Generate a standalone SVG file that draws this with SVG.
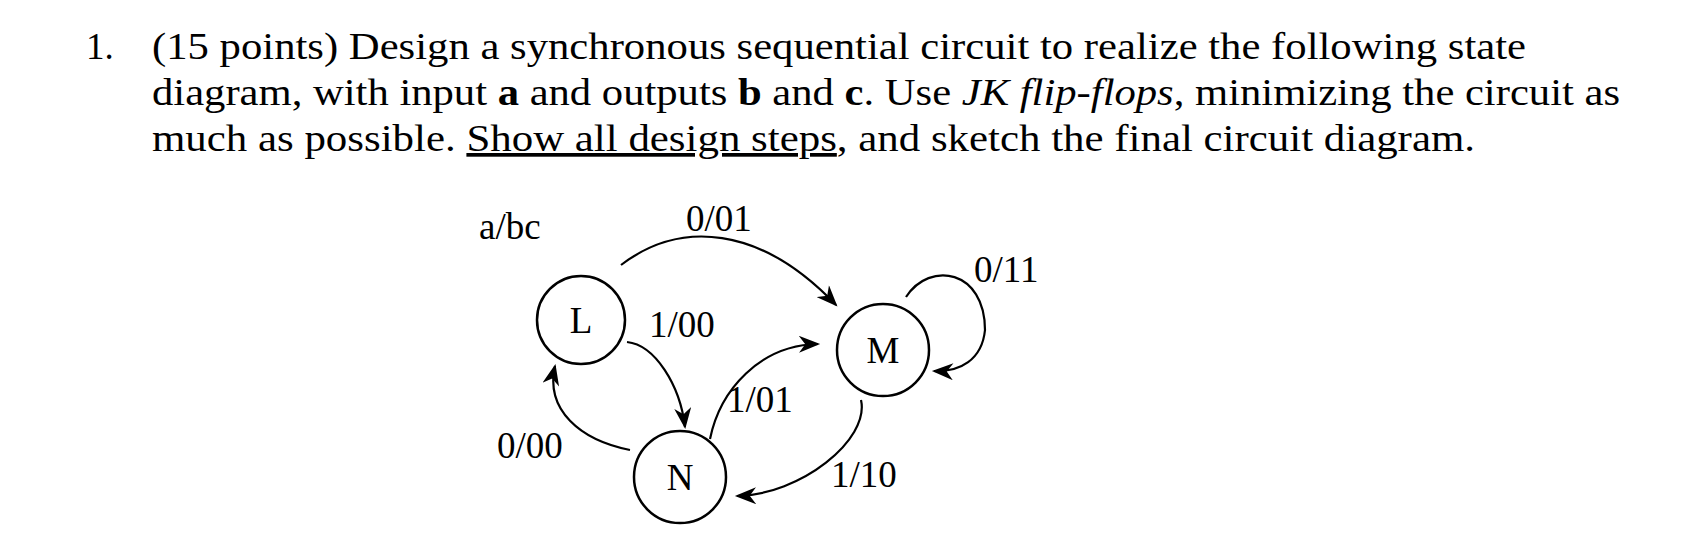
<svg xmlns="http://www.w3.org/2000/svg" width="1688" height="554" viewBox="0 0 1688 554">
<style>
.t{font-family:"Liberation Serif","Times New Roman",serif;font-size:37px;fill:#000}
.d{font-family:"Liberation Serif","Times New Roman",serif;font-size:37px;fill:#000}
.n{fill:none;stroke:#000;stroke-width:2.5}
.e{fill:none;stroke:#000;stroke-width:2.2;marker-end:url(#ah)}
</style>
<defs>
<marker id="ah" viewBox="0 0 20 16" refX="18" refY="8" markerWidth="22" markerHeight="17" markerUnits="userSpaceOnUse" orient="auto">
<path d="M0,0 L20,8 L0,16 L6,8 Z" fill="#000"/>
</marker>
</defs>
<rect width="1688" height="554" fill="#fff"/>
<text class="t" x="86" y="59">1.</text>
<text class="t" x="152" y="59" textLength="1374" lengthAdjust="spacingAndGlyphs">(15 points) Design a synchronous sequential circuit to realize the following state</text>
<text class="t" x="152" y="105" textLength="1468" lengthAdjust="spacingAndGlyphs">diagram, with input <tspan font-weight="bold">a</tspan> and outputs <tspan font-weight="bold">b</tspan> and <tspan font-weight="bold">c</tspan>. Use <tspan font-style="italic">JK flip-flops</tspan>, minimizing the circuit as</text>
<text class="t" x="152" y="151" textLength="1323" lengthAdjust="spacingAndGlyphs">much as possible.  <tspan text-decoration="underline">Show all design steps</tspan>, and sketch the final circuit diagram.</text>
<text class="d" x="479" y="239">a/bc</text>
<g id="connectors">
<path class="e" d="M621,265 C680,220 760,225 836,305"/>
<path class="e" d="M627,342 C655,345 680,385 685,427"/>
<path class="e" d="M710,439 C720,390 760,345 818,344"/>
<path class="e" d="M630,450 C580,440 545,410 555,366"/>
<path class="e" d="M861,400 C870,440 800,495 737,496"/>
<path class="e" d="M906,297 C930,260 985,270 985,330 C982,360 960,372 934,371"/>
<text class="d" x="686" y="231">0/01</text>
<text class="d" x="974" y="282">0/11</text>
<text class="d" x="649" y="337">1/00</text>
<text class="d" x="727" y="412">1/01</text>
<text class="d" x="497" y="458">0/00</text>
<text class="d" x="831" y="487">1/10</text>
</g>
<g id="L"><circle class="n" cx="581" cy="320" r="44"/><text class="d" x="581" y="333" text-anchor="middle">L</text></g>
<g id="M"><circle class="n" cx="883" cy="350" r="46"/><text class="d" x="883" y="363" text-anchor="middle">M</text></g>
<g id="N"><circle class="n" cx="680" cy="477" r="46"/><text class="d" x="680" y="490" text-anchor="middle">N</text></g>
</svg>
